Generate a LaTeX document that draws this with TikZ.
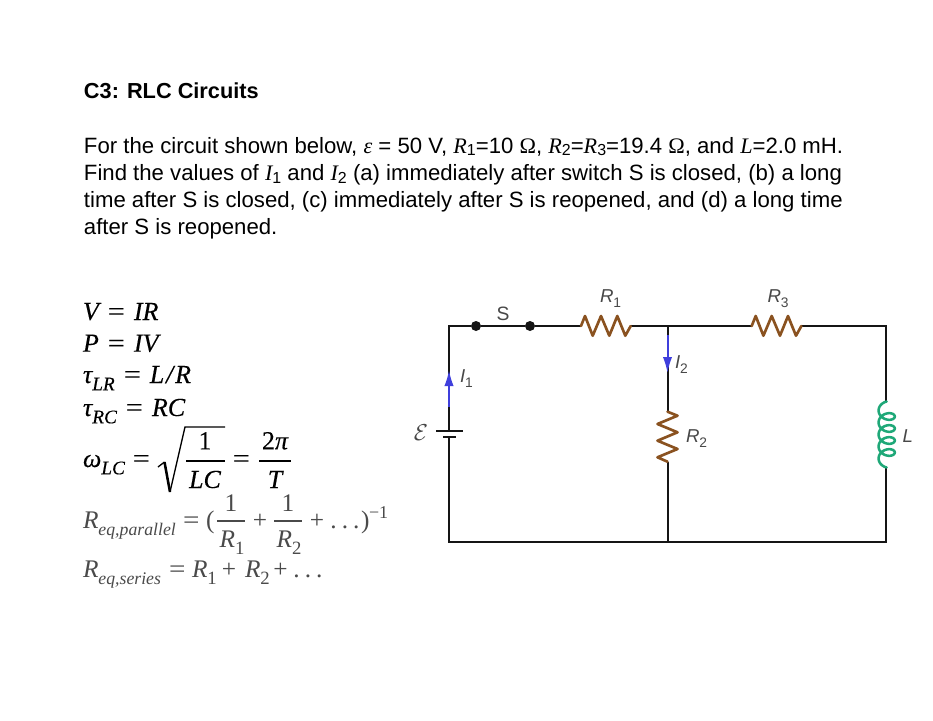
\documentclass[tikz,border=0pt]{standalone}
\usepackage{graphicx}
\usepackage{fontspec}
\setmainfont{Liberation Sans}
\newfontfamily\mf{Liberation Serif}
\newfontfamily\mfb[FakeBold=0.25]{Liberation Serif}
\usetikzlibrary{arrows.meta}
\definecolor{wirec}{HTML}{151515}
\definecolor{resc}{HTML}{8A5220}
\definecolor{coilc}{HTML}{1FA878}
\definecolor{arrc}{HTML}{3F3FDC}
\definecolor{lblc}{HTML}{484848}
\definecolor{greyeq}{HTML}{4A4A4A}
\newcommand\sbs[1]{\raisebox{-.28em}{\scalebox{.74}{#1}}}
\newcommand\sbg[1]{\raisebox{-.28em}{\scalebox{.7}{#1}}}
\newcommand\tsb[1]{\raisebox{-.12em}{\scalebox{.72}{#1}}}
\newcommand\eqq{\scalebox{1.15}[1]{\upshape =}}
\newcommand\eqs{\kern.35em\eqq\kern.35em}
\newcommand\mi[1]{{\mf\itshape #1}}
\newcommand\tx[5][]{\node[basew,#1] (#2) at (#3,#4) {#5};}
\newcommand\tc[5][]{\node[basec,#1] (#2) at (#3,#4) {#5};}
\tikzset{
  basew/.style={anchor=base west,inner sep=0pt,outer sep=0pt},
  basec/.style={anchor=base,inner sep=0pt,outer sep=0pt},
  body/.style={font=\fontsize{16.62}{18}\selectfont,text=black},
  titlefont/.style={font=\fontsize{16.3}{18}\selectfont\bfseries,text=black},
  eqn/.style={font=\fontsize{19.5}{20}\selectfont\mfb\itshape,text=black},
  eqg/.style={font=\fontsize{19}{20}\selectfont\mf\itshape,text=greyeq},
  wire/.style={draw=wirec,line width=1.5pt},
  barline/.style={draw=black,line width=1pt},
  barg/.style={draw=greyeq,line width=.8pt},
  resistor/.style={draw=resc,line width=2pt,line join=round,line cap=round},
  coil/.style={draw=coilc,line width=1.9pt,line cap=round},
  current/.style={draw=arrc,line width=1.5pt,-{Latex[length=12pt,width=7pt]}},
  clabel/.style={font=\fontsize{14}{16}\selectfont\itshape,text=lblc},
  dot/.style={circle,fill=wirec,inner sep=0pt,minimum size=7.5pt},
}
\begin{document}
\begin{tikzpicture}[x=.75pt,y=-.75pt]
\useasboundingbox (0,0) rectangle (933,721);
% text
\tx[titlefont]{title}{84}{98.5}{C3: RLC Circuits}
\tx[body]{l1}{84}{153.3}{For the circuit shown below, \mi{ε} = 50 V, \mi{R}\tsb{1}=10 {\mf Ω}, \mi{R}\tsb{2}=\mi{R}\tsb{3}=19.4 {\mf Ω}, and \mi{L}=2.0 mH.}
\tx[body]{l2}{84}{180.5}{Find the values of \mi{I}\tsb{1} and \mi{I}\tsb{2} (a) immediately after switch S is closed, (b) a long}
\tx[body]{l3}{84}{207.5}{time after S is closed, (c) immediately after S is reopened, and (d) a long time}
\tx[body]{l4}{84}{234.5}{after S is reopened.}
% formulas
\tx[eqn]{e1}{83}{320}{V\eqs IR}
\tx[eqn]{e2}{83}{351.7}{P\eqs IV}
\tx[eqn]{e3}{83}{383}{τ\sbs{LR}\eqs L\kern.07em/\kern.07em R}
\tx[eqn]{e4}{83}{416}{τ\sbs{RC}\eqs RC}
\tx[eqn]{e5}{83}{467}{ω\sbs{LC}}
\tx[eqn]{e5a}{133}{467}{\eqq}
\tc[eqn]{e5b}{205}{449.3}{\upshape 1}
\tc[eqn]{e5c}{205}{488}{LC}
\tx[eqn]{e5d}{233}{467}{\eqq}
\tc[eqn]{e5e}{275}{449.3}{\upshape 2\itshape π}
\tc[eqn]{e5f}{275}{488}{T}
\coordinate (rad0) at (158,467);
\coordinate (rad1) at (164.5,462);
\coordinate (rad2) at (170,492);
\coordinate (rad3) at (185,427);
\coordinate (rad4) at (225,427);
\draw[barline,line join=miter] (rad0) -- (rad1);
\draw[barline,line width=1.9pt] (rad1) -- (rad2);
\draw[barline,line join=miter] (rad2) -- (rad3) -- (rad4);
\coordinate (fb1a) at (186,461); \coordinate (fb1b) at (225,461);
\coordinate (fb2a) at (259,461); \coordinate (fb2b) at (291,461);
\draw[barline] (fb1a) -- (fb1b);
\draw[barline] (fb2a) -- (fb2b);
\tx[eqg]{e6}{83}{528}{R\sbg{eq,parallel}}
\tx[eqg]{e6a}{183}{528}{\eqq}
\tx[eqg]{e6b}{206}{528}{\upshape (}
\tc[eqg]{e6c}{231}{511}{\upshape 1}
\tc[eqg]{e6d}{232}{547}{R\sbs{\upshape 1}}
\tc[eqg]{e6e}{260}{528}{\upshape +}
\tc[eqg]{e6f}{288}{511}{\upshape 1}
\tc[eqg]{e6g}{289}{547}{R\sbs{\upshape 2}}
\tc[eqg]{e6h}{317}{528}{\upshape +}
\tc[eqg]{e6i}{345}{528}{\upshape .\kern.2em.\kern.2em.}
\tx[eqg]{e6j}{361}{528}{\upshape )}
\tx[eqg,font=\fontsize{13.5}{14}\selectfont\mf]{e6k}{369}{518}{−1}
\coordinate (fb3a) at (217,521); \coordinate (fb3b) at (245,521);
\coordinate (fb4a) at (274,521); \coordinate (fb4b) at (302,521);
\draw[barg] (fb3a) -- (fb3b);
\draw[barg] (fb4a) -- (fb4b);
\tx[eqg]{e7}{83}{577.6}{R\sbg{eq,series}}
\tx[eqg]{e7a}{169}{577.6}{\eqq}
\tx[eqg]{e7b}{192}{577.6}{R\sbs{\upshape 1}}
\tc[eqg]{e7c}{229}{577.6}{\upshape +}
\tx[eqg]{e7d}{245}{577.6}{R\sbs{\upshape 2}}
\tc[eqg]{e7e}{280.5}{577.6}{\upshape +}
\tc[eqg]{e7f}{308}{577.6}{\upshape .\kern.2em.\kern.2em.}
% circuit
\coordinate (tl) at (449,326);
\coordinate (tr) at (885.5,326);
\coordinate (bl) at (449,541.5);
\coordinate (br) at (885.5,541.5);
\coordinate (jt) at (667.5,326);
\coordinate (jb) at (667.5,541.5);
\node[dot] (s1) at (476,326) {};
\node[dot] (s2) at (530,326) {};
\coordinate (r1a) at (581,326); \coordinate (r1b) at (630.7,326);
\coordinate (r3a) at (751.7,326); \coordinate (r3b) at (801.4,326);
\coordinate (r2a) at (667.5,411.7); \coordinate (r2b) at (667.5,461.7);
\coordinate (la) at (885.5,401.5); \coordinate (lb) at (885.5,467.5);
\coordinate (ba) at (449,431); \coordinate (bb) at (449,437);
\coordinate (bl1) at (436,431); \coordinate (bl2) at (463,431);
\coordinate (bs1) at (443,437); \coordinate (bs2) at (456,437);
\draw[wire,line join=miter] (ba) -- (tl) -- (s1) -- (s2) -- (r1a);
\draw[wire] (r1b) -- (r3a);
\draw[wire,line join=miter] (r3b) -- (tr) -- (la);
\draw[wire,line join=miter] (lb) -- (br) -- (bl) -- (bb);
\draw[wire] (jt) -- (r2a);
\draw[wire] (r2b) -- (jb);
\draw[wire] (bl1) -- (bl2);
\draw[wire] (bs1) -- (bs2);
\draw[resistor] (r1a) -- ++(4,-10) -- ++(7.7,19.7) -- ++(8.3,-19.7) -- ++(8.3,19.7) -- ++(8,-19.7) -- ++(8,19.7) -- (r1b);
\draw[resistor] (r3a) -- ++(4,-10) -- ++(7.7,19.7) -- ++(8.3,-19.7) -- ++(8.3,19.7) -- ++(8,-19.7) -- ++(8,19.7) -- (r3b);
\draw[resistor] (r2a) -- ++(10,4) -- ++(-20,8.3) -- ++(20,8.3) -- ++(-20,8.4) -- ++(20,8.3) -- ++(-20,8.3) -- (r2b);
\draw[coil] plot[smooth,samples=300,domain=-90:1530,variable=\t] ({886.7-8.1*cos(\t)},{410.5+0.03333*\t+6*sin(\t)});
\coordinate (i1a) at (449,407); \coordinate (i1b) at (449,370);
\coordinate (i2a) at (667.5,335); \coordinate (i2b) at (667.5,373);
\draw[current] (i1a) -- (i1b);
\draw[current] (i2a) -- (i2b);
\tx[clabel]{lr1}{600}{302}{R\sbs{\upshape 1}}
\tx[clabel]{lr3}{767.5}{302}{R\sbs{\upshape 3}}
\tx[clabel]{lr2}{686}{442}{R\sbs{\upshape 2}}
\tx[clabel]{ll}{902.5}{442}{L}
\tx[clabel]{li1}{460}{382}{I\sbs{\upshape 1}}
\tx[clabel]{li2}{675}{368}{I\sbs{\upshape 2}}
\node[basec,font=\fontsize{14.5}{16}\selectfont,text=lblc] (ls) at (503,320) {S};
\node[basec,font=\fontsize{17}{16}\selectfont,text=lblc] (le) at (421,440) {$\mathcal{E}$};
\end{tikzpicture}
\end{document}
